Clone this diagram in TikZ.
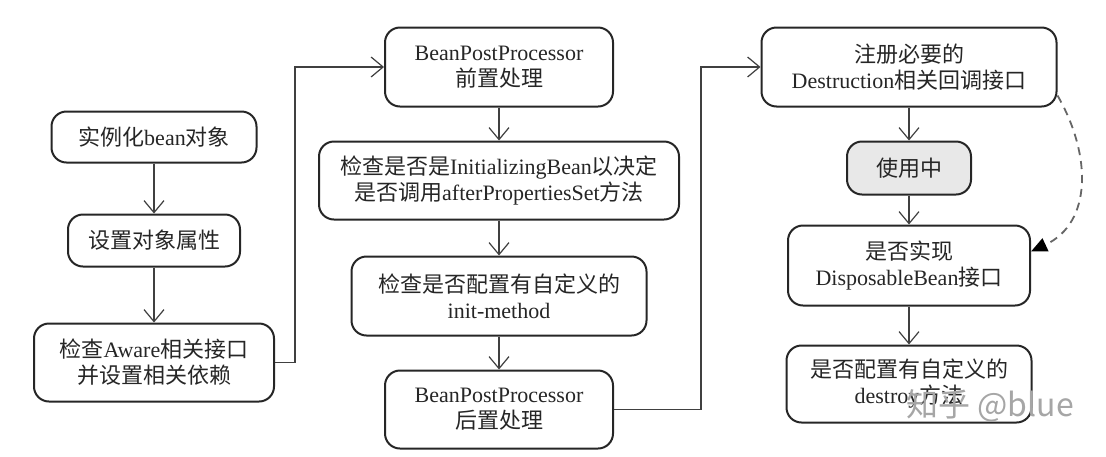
\documentclass[tikz,border=0pt]{standalone}
\usepackage{fontspec}
\setmainfont{Liberation Serif}
\newfontfamily\cjk{Noto Sans CJK SC}
\newcommand{\zh}[1]{{\cjk #1}}
\usetikzlibrary{positioning,arrows.meta}

\begin{document}
\begin{tikzpicture}[
stage/.style={rectangle, rounded corners=7.5pt, draw=black!85, line width=1pt, fill=white, align=center, text=black!85, inner sep=2pt, font=\fontsize{11}{13}\selectfont},
using/.style={stage, fill=black!9},
flow/.style={draw=black!75, line width=0.6pt, -{Straight Barb[length=6pt,width=10pt]}}
]
\useasboundingbox (0,0) rectangle (553pt,-228pt);
%Nodes
\node[stage, minimum width=102.5pt, minimum height=25.5pt] (a1) at (77pt,-68.5pt) {\zh{实例化}bean\zh{对象}};
\node[stage, minimum width=86pt, minimum height=26pt]      (a2) [below=25pt of a1]   {\zh{设置对象属性}};
\node[stage, minimum width=120pt, minimum height=39pt]     (a3) [below=27.5pt of a2] {\zh{检查}Aware\zh{相关接口}\\\zh{并设置相关依赖}};

\node[stage, minimum width=114pt, minimum height=39.5pt]   (b1) at (249.5pt,-33.5pt) {BeanPostProcessor\\\zh{前置处理}};
\node[stage, minimum width=180pt, minimum height=39pt]     (b2) [below=16.5pt of b1] {\zh{检查是否是}InitializingBean\zh{以决定}\\\zh{是否调用}afterPropertiesSet\zh{方法}};
\node[stage, minimum width=147.5pt, minimum height=39.5pt] (b3) [below=17.5pt of b2] {\zh{检查是否配置有自定义的}\\init-method};
\node[stage, minimum width=114pt, minimum height=39pt]     (b4) [below=16.5pt of b3] {BeanPostProcessor\\\zh{后置处理}};

\node[stage, minimum width=147.5pt, minimum height=39.5pt] (c1) at (454.5pt,-33.5pt) {\zh{注册必要的}\\Destruction\zh{相关回调接口}};
\node[using, minimum width=62pt, minimum height=26.5pt]    (c2) [below=16.5pt of c1] {\zh{使用中}};
\node[stage, minimum width=121pt, minimum height=40pt]     (c3) [below=14.5pt of c2] {\zh{是否实现}\\DisposableBean\zh{接口}};
\node[stage, minimum width=122.5pt, minimum height=38.5pt] (c4) [below=19pt of c3]   {\zh{是否配置有自定义的}\\destroy\zh{方法}};
%Lines
\draw[flow] (a1) -- (a2);
\draw[flow] (a2) -- (a3);
\draw[flow] (a3.east) -- ++(10pt,0) |- (b1.west);
\draw[flow] (b1) -- (b2);
\draw[flow] (b2) -- (b3);
\draw[flow] (b3) -- (b4);
\draw[flow] (b4.east) -- ++(43.5pt,0) |- (c1.west);
\draw[flow] (c1) -- (c2);
\draw[flow] (c2) -- (c3);
\draw[flow] (c3) -- (c4);
\draw[black!60, line width=0.9pt, dash pattern=on 4pt off 3pt, -{Triangle[length=8pt,width=7pt,fill=black,color=black]}] ([yshift=6pt]c1.south east) to[out=-60, in=25, looseness=1.1] ([yshift=7pt]c3.east);
%Mark
\node[text=black!35, font=\cjk\fontsize{16}{16}\selectfont] (mark) at (495pt,-203pt) {知乎 @blue};
\end{tikzpicture}
\end{document}
